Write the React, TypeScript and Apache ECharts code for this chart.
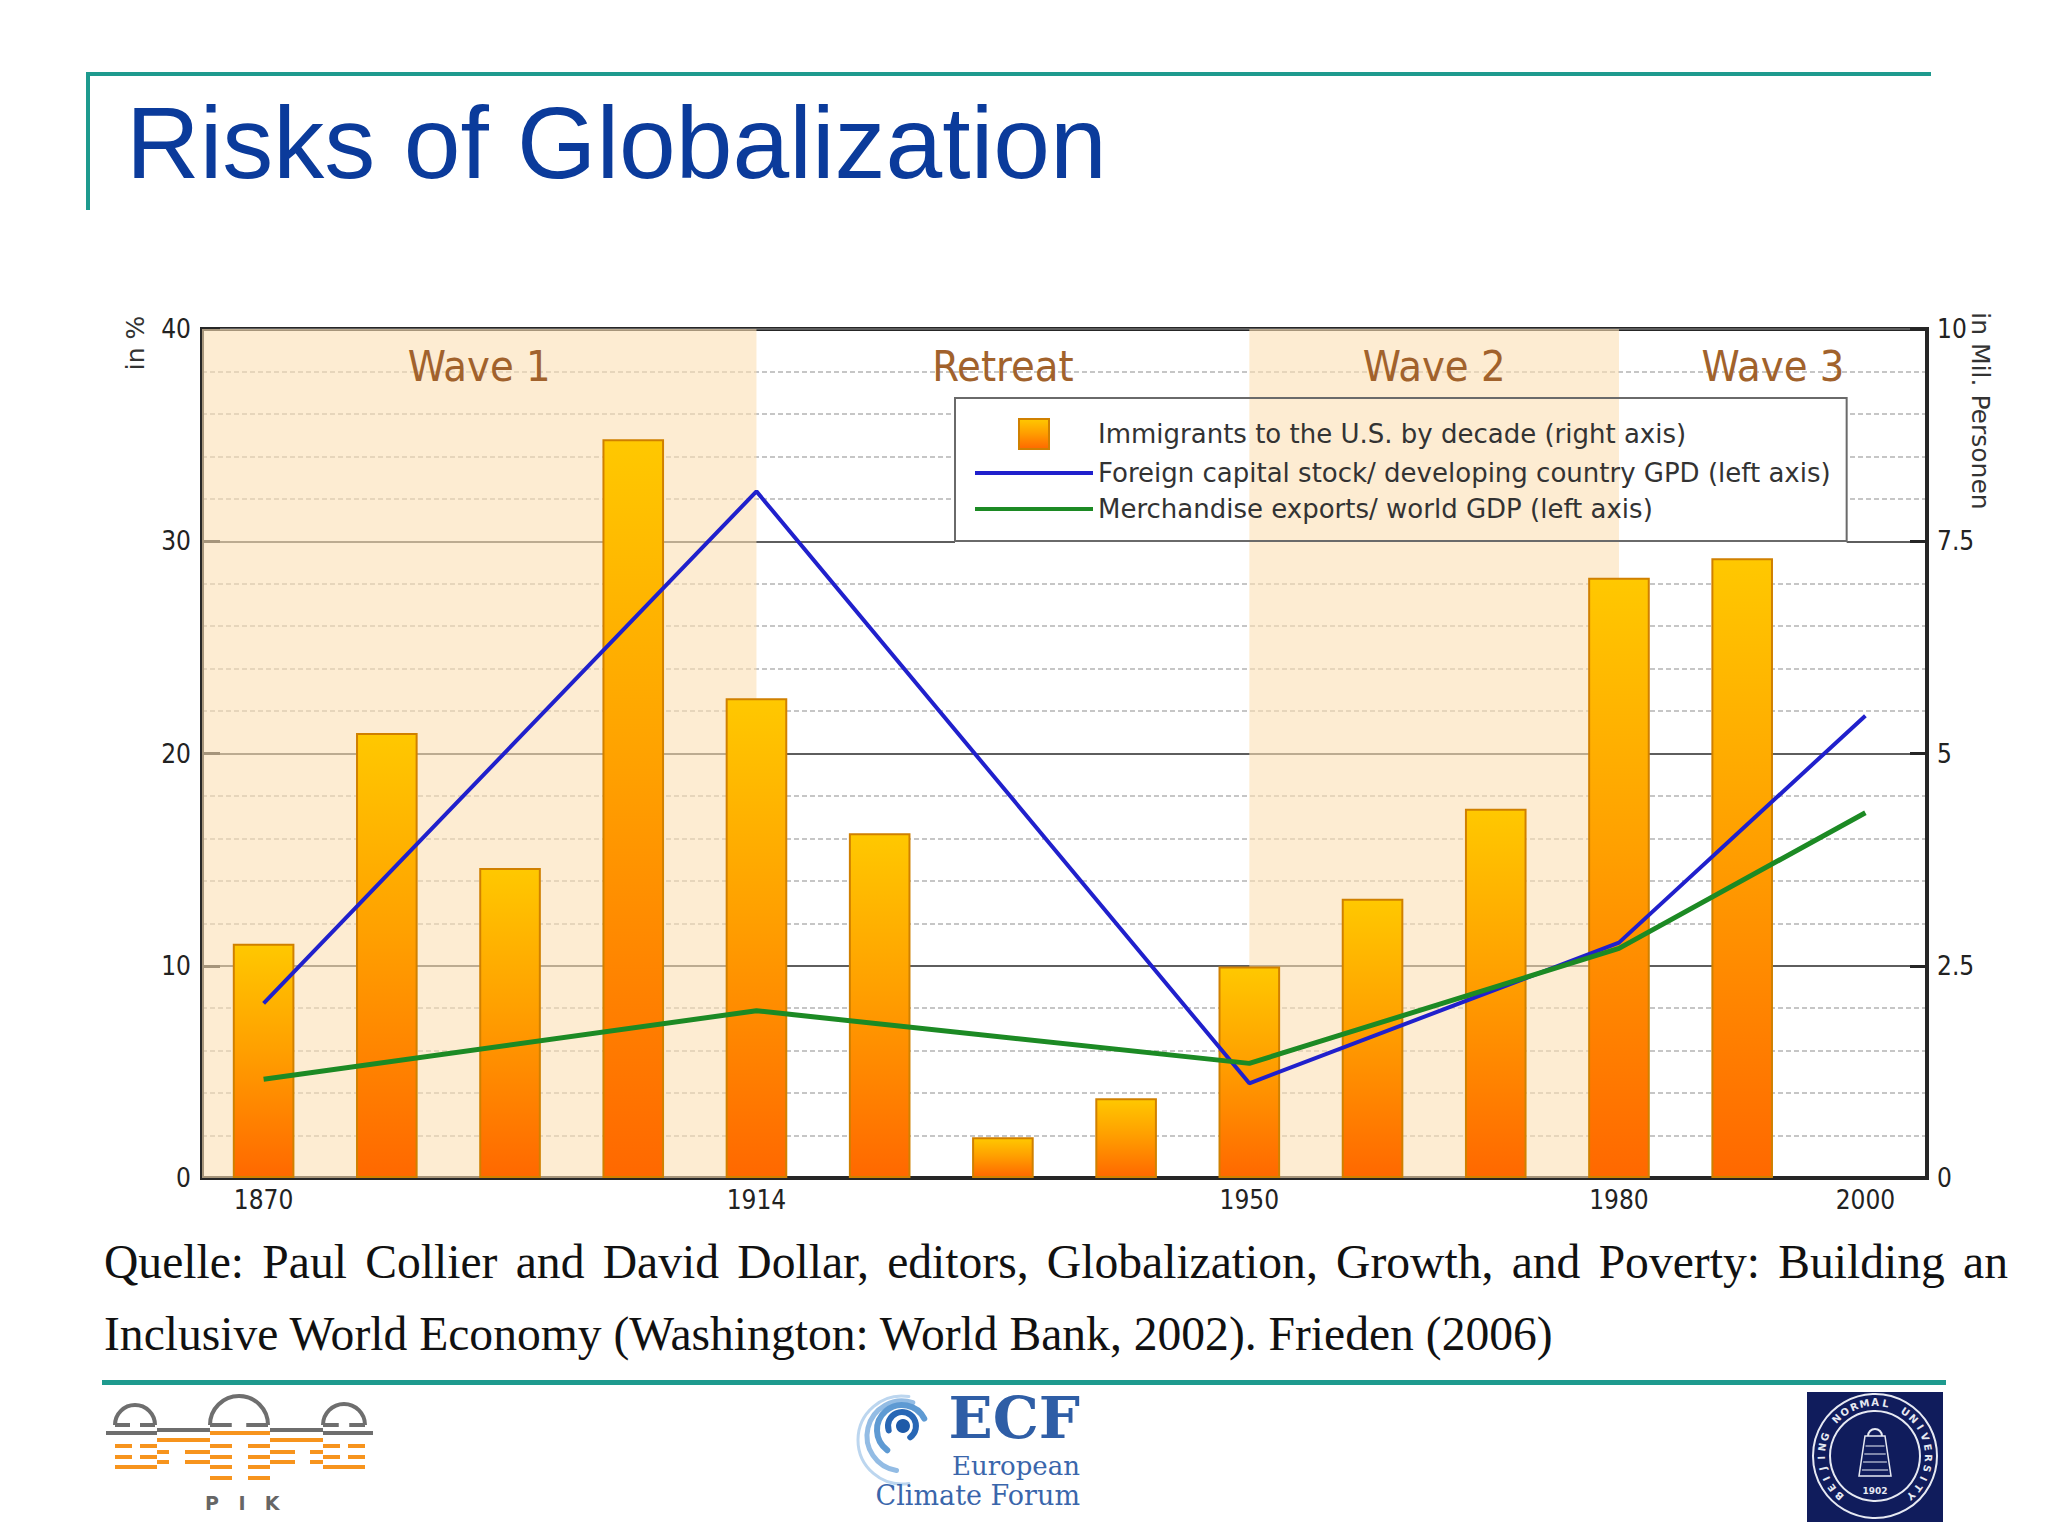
import React, { useEffect, useRef } from "react";
import * as echarts from "echarts";

// Decade slots on the x axis (the 1910s slot carries the 1914 benchmark)
const decades = ["1870", "1880", "1890", "1900", "1914", "1920", "1930", "1940", "1950", "1960", "1970", "1980", "1990", "2000"];
const labelledYears = ["1870", "1914", "1950", "1980", "2000"];

// Immigrants to the U.S. per decade, in millions (right axis)
const immigrants = [2.76, 5.24, 3.65, 8.7, 5.65, 4.06, 0.48, 0.94, 2.49, 3.29, 4.35, 7.07, 7.3];

// Benchmark years of the two ratio series, in % (left axis)
const benchmarkYears = ["1870", "1914", "1950", "1980", "2000"];
const foreignCapital = [8.23, 32.35, 4.46, 11.09, 21.78];
const merchExports = [4.65, 7.88, 5.4, 10.82, 17.21];

// Historical periods, as slot positions on the hidden value axis
const periodNames = ["Wave 1", "Retreat", "Wave 2", "Wave 3"];
const periodStarts = [-0.5, 4, 8, 11];
const periodEnds = [4, 8, 11, 13.5];
const periodShaded = [true, false, true, false];

const seriesNames = [
  "Immigrants to the U.S. by decade (right axis)",
  "Foreign capital stock/ developing country GPD (left axis)",
  "Merchandise exports/ world GDP (left axis)",
];

const titleText = "Risks of Globalization";
const sourceLines = [
  "Quelle: Paul Collier and David Dollar, editors, Globalization, Growth, and Poverty: Building an",
  "Inclusive World Economy (Washington: World Bank, 2002). Frieden (2006)",
];

const CHART_FONT = '"DejaVu Sans Condensed", "DejaVu Sans", sans-serif';
const WIDE_FONT = '"DejaVu Sans", sans-serif';
const SERIF = '"Liberation Serif", "Times New Roman", serif';
const TEAL = "#1E9A8E";

// legend box layout
const LEGEND_LEFT = 955;
const LEGEND_TOP = 398;
const LEGEND_PAD = [20, 16, 19, 20];
const LEGEND_ICON_W = 118;
const LEGEND_ICON_H = 30;
const LEGEND_GAP = 10;
const LEGEND_FONT_SIZE = 26;

function measure(text: string, font: string) {
  const ctx = document.createElement("canvas").getContext("2d") as CanvasRenderingContext2D;
  ctx.font = font;
  return ctx.measureText(text).width;
}

function textEl(text: string, x: number, y: number, font: string, fill: string, align = "left", rotation = 0) {
  return {
    type: "text",
    x,
    y,
    rotation,
    silent: true,
    style: { text, font, fill, textAlign: align, align, textVerticalAlign: "middle", verticalAlign: "middle" },
  };
}

// Spread the words of a line evenly between two x positions
function justifyLine(text: string, font: string, left: number, right: number, y: number) {
  const words = text.split(" ");
  const widths = words.map((w) => measure(w, font));
  const total = widths.reduce((a, b) => a + b, 0);
  const gap = (right - left - total) / (words.length - 1);
  let x = left;
  return words.map((w, i) => {
    const el = textEl(w, x, y, font, "#111");
    x += widths[i] + gap;
    return el;
  });
}

function pikLogo() {
  const gray = "#6E6E6E";
  const orange = "#F7941D";
  const els: any[] = [];
  const arches = [
    { cx: 135, r: 20 },
    { cx: 239, r: 29 },
    { cx: 344, r: 21 },
  ];
  const baseY = 1425;
  arches.forEach(({ cx, r }) => {
    els.push({
      type: "arc",
      silent: true,
      shape: { cx, cy: baseY, r, startAngle: Math.PI, endAngle: Math.PI * 2, clockwise: true },
      style: { stroke: gray, lineWidth: 4, fill: null },
    });
    els.push({ type: "line", silent: true, shape: { x1: cx - r, y1: baseY, x2: cx - r * 0.25, y2: baseY }, style: { stroke: gray, lineWidth: 4 } });
    els.push({ type: "line", silent: true, shape: { x1: cx + r * 0.25, y1: baseY, x2: cx + r, y2: baseY }, style: { stroke: gray, lineWidth: 4 } });
  });
  const bar = (x1: number, x2: number, y: number, c: string) =>
    els.push({ type: "rect", silent: true, shape: { x: x1, y: y - 2, width: x2 - x1, height: 4 }, style: { fill: c } });
  bar(106, 157, 1433, gray);
  bar(157, 210, 1430, gray);
  bar(210, 270, 1433, orange);
  bar(270, 323, 1430, gray);
  bar(323, 373, 1433, gray);
  const rowB = [[115, 132], [140, 157], [210, 232], [248, 270], [323, 340], [348, 365]];
  const rowC = [[157, 169], [185, 210], [270, 295], [310, 323]];
  [[157, 210], [270, 323]].forEach(([a, b]) => bar(a, b, 1440, orange));
  rowB.forEach(([a, b]) => bar(a, b, 1446, orange));
  rowC.forEach(([a, b]) => bar(a, b, 1452, orange));
  rowB.forEach(([a, b]) => bar(a, b, 1457, orange));
  rowC.forEach(([a, b]) => bar(a, b, 1462, orange));
  [[115, 157], [210, 232], [248, 270], [323, 365]].forEach(([a, b]) => bar(a, b, 1467, orange));
  [[210, 232], [248, 270]].forEach(([a, b]) => bar(a, b, 1478, orange));
  ["P", "I", "K"].forEach((ch, i) => els.push(textEl(ch, 212 + i * 30, 1503, 'bold 19px "DejaVu Sans", sans-serif', "#666", "center")));
  return els;
}

function ecfLogo() {
  const els: any[] = [];
  const arcs = [
    { r: 44, w: 3, c: "#BCD6EF", s: 0.45, e: 1.55, cx: 902, cy: 1440 },
    { r: 35, w: 5, c: "#93BCE4", s: 0.55, e: 1.6, cx: 902, cy: 1436 },
    { r: 25, w: 6, c: "#5E9AD3", s: 0.7, e: 1.85, cx: 902, cy: 1430 },
    { r: 14, w: 6, c: "#2867B5", s: 0.9, e: 2.3, cx: 902, cy: 1426 },
  ];
  arcs.forEach((a) =>
    els.push({
      type: "arc",
      silent: true,
      shape: { cx: a.cx, cy: a.cy, r: a.r, startAngle: Math.PI * a.s, endAngle: Math.PI * a.e, clockwise: true },
      style: { stroke: a.c, lineWidth: a.w, fill: null, lineCap: "round" },
    })
  );
  els.push({ type: "circle", silent: true, shape: { cx: 903, cy: 1426, r: 7 }, style: { fill: "#1E5AA8" } });
  els.push(textEl("ECF", 1080, 1418, 'bold 58px "DejaVu Serif", serif', "#2F5EA6", "right"));
  els.push(textEl("European", 1080, 1466, '26px "DejaVu Serif", serif', "#3A66AB", "right"));
  els.push(textEl("Climate Forum", 1080, 1495, '27px "DejaVu Serif", serif', "#3A66AB", "right"));
  return els;
}

function bnuLogo() {
  const els: any[] = [];
  const cx = 1875;
  const cy = 1456;
  const ink = "#E6E9F2";
  els.push({ type: "rect", silent: true, shape: { x: 1807, y: 1392, width: 136, height: 130 }, style: { fill: "#101C5C" } });
  els.push({ type: "circle", silent: true, shape: { cx, cy, r: 62 }, style: { fill: null, stroke: ink, lineWidth: 2 } });
  els.push({ type: "circle", silent: true, shape: { cx, cy, r: 45 }, style: { fill: null, stroke: ink, lineWidth: 2 } });
  const ring = "BEIJING NORMAL UNIVERSITY";
  const n = ring.length;
  const startDeg = 228;
  const endDeg = -48;
  for (let i = 0; i < n; i++) {
    const ch = ring[i];
    if (ch === " ") continue;
    const th = ((startDeg + ((endDeg - startDeg) * i) / (n - 1)) * Math.PI) / 180;
    els.push(textEl(ch, cx + 53.5 * Math.cos(th), cy - 53.5 * Math.sin(th), 'bold 10px "DejaVu Sans", sans-serif', ink, "center", th - Math.PI / 2));
  }
  els.push(textEl("1902", cx, cy + 35, 'bold 9px "DejaVu Sans", sans-serif', ink, "center"));
  // bell emblem
  els.push({ type: "arc", silent: true, shape: { cx, cy: cy - 20, r: 7, startAngle: Math.PI, endAngle: Math.PI * 2, clockwise: true }, style: { stroke: ink, lineWidth: 2, fill: null } });
  els.push({
    type: "polygon",
    silent: true,
    shape: { points: [[cx - 10, cy - 20], [cx + 10, cy - 20], [cx + 16, cy + 20], [cx - 16, cy + 20]] },
    style: { stroke: ink, lineWidth: 1.5, fill: null },
  });
  [-10, -2, 6, 14].forEach((dy) =>
    els.push({ type: "line", silent: true, shape: { x1: cx - 11 - dy * 0.15, y1: cy + dy, x2: cx + 11 + dy * 0.15, y2: cy + dy }, style: { stroke: "#C9CEDF", lineWidth: 1.2 } })
  );
  return els;
}

function buildGraphics() {
  const els: any[] = [];
  // slide frame
  els.push({ type: "rect", silent: true, shape: { x: 86, y: 72, width: 1845, height: 4 }, style: { fill: TEAL } });
  els.push({ type: "rect", silent: true, shape: { x: 86, y: 72, width: 4, height: 138 }, style: { fill: TEAL } });
  els.push({ type: "rect", silent: true, shape: { x: 102, y: 1380, width: 1844, height: 5 }, style: { fill: TEAL } });
  els.push(textEl(titleText, 126, 143, '102px "Liberation Sans", Arial, sans-serif', "#0B3B9B"));

  // white card under the legend: hides the grid lines but sits below the period shading
  const legendFont = `${LEGEND_FONT_SIZE}px ${WIDE_FONT}`;
  const textW = Math.max(...seriesNames.map((s) => measure(s, legendFont)));
  const boxW = LEGEND_PAD[3] + LEGEND_ICON_W + 5 + textW + LEGEND_PAD[1];
  const boxH = LEGEND_PAD[0] + 3 * LEGEND_ICON_H + 2 * LEGEND_GAP + LEGEND_PAD[2];
  els.push({ type: "rect", silent: true, z: 0.5, shape: { x: LEGEND_LEFT, y: LEGEND_TOP, width: boxW, height: boxH }, style: { fill: "#ffffff" } });

  // axis titles
  els.push(textEl("in %", 135, 343, `25px ${WIDE_FONT}`, "#333", "center", Math.PI / 2));
  els.push(textEl("in Mil. Personen", 1980, 411, `25px ${WIDE_FONT}`, "#333", "center", -Math.PI / 2));
  // source note
  const srcFont = `47.6px ${SERIF}`;
  els.push(...justifyLine(sourceLines[0], srcFont, 104, 2008, 1262));
  els.push(textEl(sourceLines[1], 104, 1334, srcFont, "#111"));
  els.push(...pikLogo(), ...ecfLogo(), ...bnuLogo());
  return els;
}

export default function App() {
  const ref = useRef<HTMLDivElement>(null);

  useEffect(() => {
    if (!ref.current) return;
    const chart = echarts.init(ref.current, undefined, { renderer: "svg" });

    const barGradient = new echarts.graphic.LinearGradient(0, 0, 0, 1, [
      { offset: 0, color: "#FFC800" },
      { offset: 0.45, color: "#FFA000" },
      { offset: 1, color: "#FF6800" },
    ]);
    const axisDark = "#262626";
    const tickLabel = { color: "#222", fontSize: 26, fontFamily: CHART_FONT };
    const lineIcon = `path://M0,0H${LEGEND_ICON_W}V4H0Z`;

    const option: any = {
      animation: false,
      backgroundColor: "#ffffff",
      textStyle: { fontFamily: CHART_FONT },
      grid: { left: 202, top: 329, width: 1725, height: 849, show: true, borderColor: axisDark, borderWidth: 4, backgroundColor: "transparent" },
      legend: {
        orient: "vertical",
        left: LEGEND_LEFT,
        top: LEGEND_TOP,
        itemWidth: LEGEND_ICON_W,
        itemHeight: LEGEND_ICON_H,
        itemGap: LEGEND_GAP,
        padding: LEGEND_PAD,
        backgroundColor: "transparent",
        borderColor: "#6a6a6a",
        borderWidth: 2,
        selectedMode: false,
        textStyle: { fontSize: LEGEND_FONT_SIZE, color: "#333", fontFamily: WIDE_FONT },
        data: [
          { name: seriesNames[0], icon: "path://M0,0H10V10H0Z" },
          { name: seriesNames[1], icon: lineIcon },
          { name: seriesNames[2], icon: lineIcon },
        ],
      },
      xAxis: [
        {
          type: "category",
          data: decades,
          boundaryGap: true,
          axisLine: { show: true, onZero: false, lineStyle: { color: axisDark, width: 4 } },
          axisTick: { show: false },
          axisLabel: { ...tickLabel, margin: 9, interval: (_i: number, v: string) => labelledYears.includes(v) },
          splitLine: { show: false },
        },
        { type: "value", min: -0.5, max: 13.5, show: false },
      ],
      yAxis: [
        {
          type: "value",
          position: "left",
          min: 0,
          max: 40,
          interval: 10,
          axisLine: { show: true, onZero: false, lineStyle: { color: axisDark, width: 4 } },
          axisTick: { show: true, inside: true, length: 18, lineStyle: { color: axisDark, width: 3 } },
          axisLabel: { ...tickLabel, margin: 11 },
          splitLine: { show: true, lineStyle: { color: "#5e5e5e", width: 2 } },
          minorTick: { show: false, splitNumber: 5 },
          minorSplitLine: { show: true, lineStyle: { color: "#c6c6c6", width: 2, type: [5, 3] } },
        },
        {
          type: "value",
          position: "right",
          min: 0,
          max: 10,
          interval: 2.5,
          axisLine: { show: true, onZero: false, lineStyle: { color: axisDark, width: 4 } },
          axisTick: { show: true, inside: true, length: 17, lineStyle: { color: axisDark, width: 3 } },
          axisLabel: { ...tickLabel, margin: 10 },
          splitLine: { show: false },
        },
      ],
      series: [
        {
          name: "periods",
          type: "line",
          xAxisIndex: 1,
          yAxisIndex: 0,
          data: [],
          silent: true,
          markArea: {
            silent: true,
            z: 1,
            label: { show: true, position: "insideTop", distance: 15, color: "#A1622C", fontSize: 43, fontFamily: CHART_FONT },
            data: periodNames.map((name, i) => [
              { name, xAxis: periodStarts[i], itemStyle: { color: periodShaded[i] ? "rgba(252,223,180,0.6)" : "rgba(255,255,255,0)" } },
              { xAxis: periodEnds[i] },
            ]),
          },
        },
        {
          name: seriesNames[0],
          type: "bar",
          xAxisIndex: 0,
          yAxisIndex: 1,
          data: immigrants,
          barWidth: "50%",
          itemStyle: { color: barGradient, borderColor: "#D08000", borderWidth: 2 },
        },
        {
          name: seriesNames[1],
          type: "line",
          xAxisIndex: 0,
          yAxisIndex: 0,
          data: benchmarkYears.map((y, i) => [y, foreignCapital[i]]),
          symbol: "none",
          lineStyle: { color: "#2020CC", width: 4 },
          itemStyle: { color: "#2020CC" },
        },
        {
          name: seriesNames[2],
          type: "line",
          xAxisIndex: 0,
          yAxisIndex: 0,
          data: benchmarkYears.map((y, i) => [y, merchExports[i]]),
          symbol: "none",
          lineStyle: { color: "#1C8A24", width: 5 },
          itemStyle: { color: "#1C8A24" },
        },
      ],
      graphic: buildGraphics(),
    };

    chart.setOption(option);
    return () => chart.dispose();
  }, []);

  return <div ref={ref} style={{ position: "absolute", left: 0, top: 0, width: 2048, height: 1536 }} />;
}
